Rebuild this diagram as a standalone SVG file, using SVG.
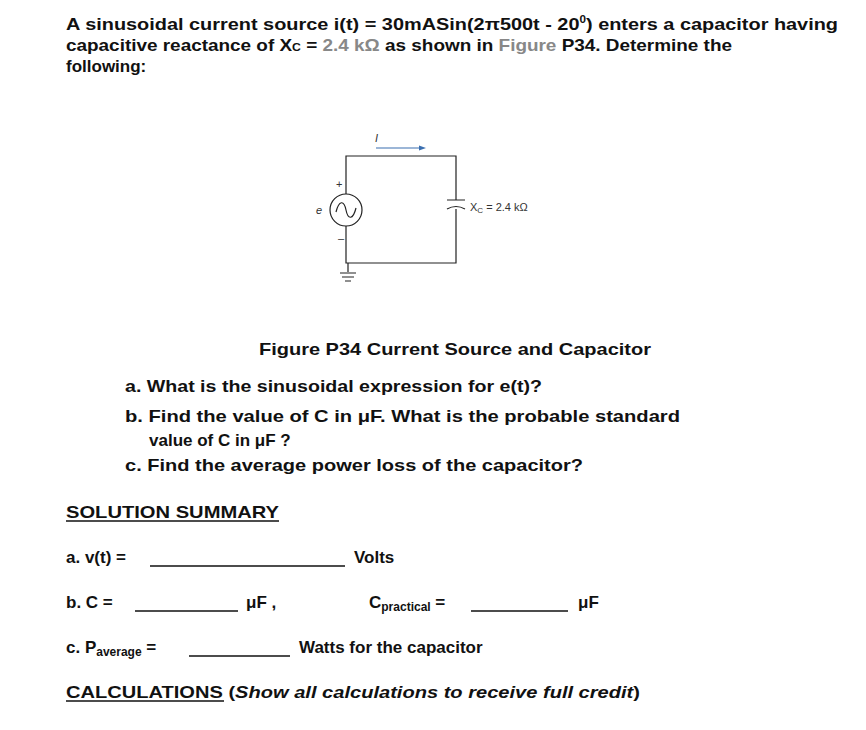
<svg xmlns="http://www.w3.org/2000/svg" width="866" height="730" viewBox="0 0 866 730">
<style>
.t{font-family:"Liberation Sans",Arial,sans-serif;font-size:17px;font-weight:bold;fill:#111}
.g{fill:#888}
.w{stroke:#222;stroke-width:1.2;fill:none}
.s{font-family:"Liberation Sans",Arial,sans-serif;font-size:11px;fill:#333}
.u{stroke:#111;stroke-width:1.3}
</style>
<rect width="866" height="730" fill="#fff"/>
<g id="problem">
<text class="t" x="66" y="30" textLength="772" lengthAdjust="spacingAndGlyphs">A sinusoidal current source i(t) = 30mASin(2π500t - 20<tspan dy="-7" font-size="10">0</tspan><tspan dy="7">) enters a capacitor having</tspan></text>
<text class="t" x="66" y="51" textLength="666" lengthAdjust="spacingAndGlyphs">capacitive reactance of X<tspan font-size="11">C</tspan> = <tspan class="g">2.4 kΩ</tspan> as shown in <tspan class="g">Figure</tspan> P34. Determine the</text>
<text class="t" x="66" y="72">following:</text>
</g>
<g id="circuit">
<path class="w" d="M346,194 V156 H456 V200 M456,209 V263 H346 V226 M348,263 V272"/>
<path d="M376,148 H422" stroke="#3a6fb0" stroke-width="1.2"/>
<path d="M426,148 l-7,-2.5 v5z" fill="#3a6fb0"/>
<text class="s" x="375" y="142" font-style="italic" font-size="9">I</text>
<circle class="w" cx="346" cy="210" r="16"/>
<path class="w" d="M336,212 c3,-12 8,-12 10,-2 c2,10 7,10 10,-2"/>
<text class="s" x="336" y="188">+</text>
<text class="s" x="338" y="242">–</text>
<text class="s" x="316" y="214" font-style="italic">e</text>
<path class="w" d="M447,200 H465 M447,209 q9,-5 18,0"/>
<path class="w" d="M340,273 H356 M342,277 H354 M345,281 H351"/>
<text class="s" x="470" y="211">X<tspan font-size="8" dy="2">C</tspan><tspan dy="-2"> = 2.4 kΩ</tspan></text>
</g>
<g id="questions">
<text class="t" x="259" y="355" textLength="392" lengthAdjust="spacingAndGlyphs">Figure P34 Current Source and Capacitor</text>
<text class="t" x="125" y="392" textLength="417" lengthAdjust="spacingAndGlyphs">a. What is the sinusoidal expression for e(t)?</text>
<text class="t" x="125" y="422" textLength="555" lengthAdjust="spacingAndGlyphs">b. Find the value of C in μF. What is the probable standard</text>
<text class="t" x="149" y="446">value of C in μF ?</text>
<text class="t" x="125" y="471" textLength="458" lengthAdjust="spacingAndGlyphs">c. Find the average power loss of the capacitor?</text>
</g>
<g id="summary">
<text class="t" x="66" y="518" textLength="213" lengthAdjust="spacingAndGlyphs">SOLUTION SUMMARY</text>
<line class="u" x1="66" y1="521" x2="279" y2="521"/>
<text class="t" x="66" y="563">a. v(t) =</text>
<line class="u" x1="150" y1="566" x2="345" y2="566"/>
<text class="t" x="354" y="563">Volts</text>
<text class="t" x="66" y="608">b. C =</text>
<line class="u" x1="135" y1="611" x2="238" y2="611"/>
<text class="t" x="246" y="608">μF ,</text>
<text class="t" x="369" y="608">C<tspan font-size="12" dy="3">practical</tspan><tspan dy="-3"> =</tspan></text>
<line class="u" x1="471" y1="611" x2="568" y2="611"/>
<text class="t" x="578" y="608">μF</text>
<text class="t" x="66" y="653">c. P<tspan font-size="12" dy="3">average</tspan><tspan dy="-3"> =</tspan></text>
<line class="u" x1="189" y1="656" x2="290" y2="656"/>
<text class="t" x="299" y="653">Watts for the capacitor</text>
<text class="t" x="66" y="698" textLength="574" lengthAdjust="spacingAndGlyphs">CALCULATIONS (<tspan font-style="italic">Show all calculations to receive full credit</tspan>)</text>
<line class="u" x1="66" y1="701" x2="224" y2="701"/>
</g>
</svg>
